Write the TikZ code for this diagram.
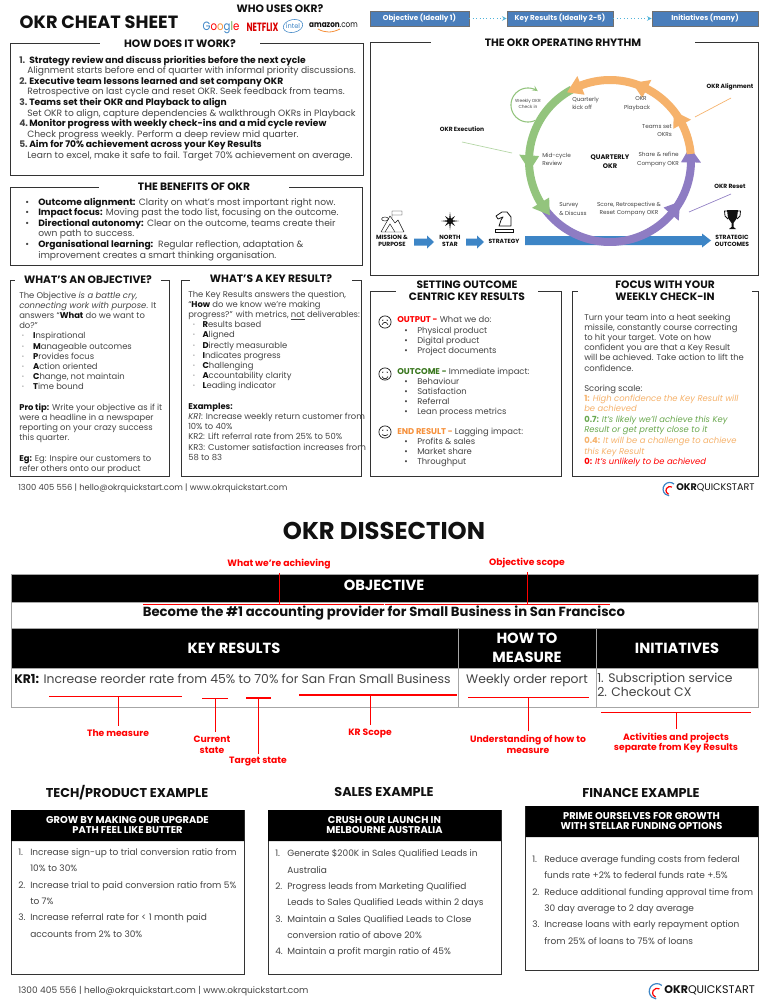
\documentclass[tikz,border=0pt]{standalone}
\usepackage{fontspec}
\usepackage{graphicx}
\setmainfont{Poppins}
\usetikzlibrary{calc}
\definecolor{ink}{HTML}{111111}
\definecolor{body}{HTML}{444444}
\definecolor{frame}{HTML}{333333}
\definecolor{boxblue}{HTML}{4A7EBB}
\definecolor{linkblue}{HTML}{4FB3D9}
\definecolor{arrowblue}{HTML}{3D85C6}
\definecolor{ringorange}{HTML}{F6B26B}
\definecolor{ringgreen}{HTML}{93C47D}
\definecolor{ringpurple}{HTML}{8E7CC3}
\definecolor{noteRed}{HTML}{FF0000}
\definecolor{okGreen}{HTML}{38761D}
\definecolor{midGreen}{HTML}{6AA84F}
\definecolor{endOrange}{HTML}{F6913C}
\definecolor{rule}{HTML}{A6A6A6}
\tikzset{
  panel/.style={draw=frame, line width=0.75pt, fill=white},
  panelTitle/.style={fill=white, text=ink, font=\fontsize{8}{9}\bfseries\selectfont, inner sep=0pt, align=center},
  bodyTxt/.style={text=body, font=\fontsize{6.3}{7.65}\selectfont, inner sep=0pt, align=left, anchor=north west},
  howTxt/.style={bodyTxt, font=\fontsize{6.85}{7.95}\selectfont},
  miniTxt/.style={text=body, font=\fontsize{4.3}{6.5}\selectfont, inner sep=0pt, align=left},
  miniBold/.style={text=ink, font=\fontsize{4.5}{5.4}\bfseries\selectfont, inner sep=0pt, align=center},
  topBox/.style={draw=frame!70, fill=boxblue, text=white, line width=0.4pt, font=\fontsize{5.4}{6}\bfseries\selectfont, minimum height=11.25pt, inner sep=0pt},
  flowLink/.style={draw=linkblue, dotted, line width=0.6pt, ->, >=stealth},
  blackCell/.style={fill=black, text=white, font=\fontsize{11}{14.2}\bfseries\selectfont, inner sep=0pt, align=center},
  cellTxt/.style={text=body, font=\fontsize{9.3}{10.6}\selectfont, inner sep=0pt, align=left, anchor=base west},
  redLbl/.style={text=noteRed, font=\fontsize{6.9}{8}\bfseries\selectfont, inner sep=0pt, outer sep=3pt, align=center},
  redRule/.style={draw=noteRed, line width=0.75pt},
  exTitle/.style={text=ink, font=\fontsize{9.6}{11}\bfseries\selectfont, inner sep=0pt},
  exHead/.style={fill=black, text=white, font=\fontsize{7.4}{8.2}\bfseries\selectfont, inner sep=0pt, align=center},
  exTxt/.style={text=body, font=\fontsize{6.75}{12.25}\selectfont, inner sep=0pt, align=left, anchor=north west},
  footTxt/.style={text=body, font=\fontsize{6.27}{7}\selectfont, inner sep=0pt, anchor=west},
  faceLine/.style={draw=ink, line width=0.5pt},
  pics/okrlogo/.style={code={
    \draw[draw=arrowblue, line width=0.9pt] (12,-4) arc (50:265:5pt);
    \draw[draw=noteRed, line width=0.9pt] (10,-1) arc (60:250:3pt);
    \node[inner sep=0pt, anchor=west, text=ink, font=\fontsize{#1}{9}\selectfont] (word) at (14,0) {\textbf{OKR}QUICKSTART};
  }},
}
\newcommand{\RingArc}[3]{%
  \draw[draw=#3, line width=6pt] plot[domain=#1:#2, samples=50, smooth] ({610+81*cos(\x)},{161-81*sin(\x)});
}
\newcommand{\RingHead}[2]{%
  \fill[#2] ({610+81*cos(#1)},{161-81*sin(#1)})
    -- ({610+91*cos(#1-11)},{161-91*sin(#1-11)})
    -- ({610+71*cos(#1-11)},{161-71*sin(#1-11)}) -- cycle;
}
\newcommand{\FaceAt}[3]{%
  \draw[faceLine] (#1,#2) circle (4.6pt);
  \fill[ink] (#1-2.2,#2-1.8) circle (0.5pt) (#1+2.2,#2-1.8) circle (0.5pt);
  \draw[faceLine] (#1-3,#2+2.6) .. controls (#1-1,#2+2.6+#3) and (#1+1,#2+2.6+#3) .. (#1+3,#2+2.6);
}
\newcommand{\HowNum}[1]{\hspace*{1.5pt}\makebox[7.5pt][l]{\textbf{#1}}}
\newcommand{\HowSub}{\hspace*{7.5pt}}
\newcommand{\BenDot}{\makebox[9.75pt][l]{•}}
\newcommand{\BenSub}{\hspace*{9.75pt}}
\newcommand{\ObjDot}{\hspace*{2.2pt}\makebox[8.2pt][l]{·}}
\newcommand{\KrDot}{\hspace*{3.7pt}\makebox[7pt][l]{·}}
\newcommand{\ExNum}[1]{\makebox[9pt][l]{#1}}

\begin{document}
\begin{tikzpicture}[x=0.75pt, y=-0.75pt]
  \useasboundingbox (0,0) rectangle (768,1006);
  \fill[white] (0,0) rectangle (768,1006);

  % header
  \node[inner sep=0pt, text=ink, font=\fontsize{13.3}{15}\bfseries\selectfont] (sheetTitle) at (99,22) {OKR CHEAT SHEET};
  \node[panelTitle] (whoUses) at (280,9) {WHO USES OKR?};
  \node[inner sep=0pt, font=\fontsize{9}{10}\selectfont] (logoGoogle) at (221,28) {\scalebox{0.85}[1]{\textcolor{arrowblue}{G}\textcolor{noteRed}{o}\textcolor{endOrange}{o}\textcolor{arrowblue}{g}\textcolor{midGreen}{l}\textcolor{noteRed}{e}}};
  \node[inner sep=0pt, text=noteRed!85!black, font=\fontsize{9}{10}\bfseries\selectfont] (logoNetflix) at (262.5,27) {\scalebox{0.68}[1]{NETFLIX}};
  \draw[draw=arrowblue, line width=0.4pt, rotate around={12:(293,26)}] (293,26) ellipse (7.4pt and 4.8pt);
  \node[inner sep=0pt, text=arrowblue, font=\fontsize{5}{6}\selectfont] (logoIntel) at (293,26) {intel};
  \node[inner sep=0pt, text=ink, font=\fontsize{6.4}{8}\selectfont] (logoAmazon) at (333.5,25) {\scalebox{0.85}[1]{\textbf{amazon}.com}};
  \draw[draw=endOrange, line width=0.6pt] (318,29) .. controls (325,33) and (332,33) .. (340,29);

  % how does it work
  \draw[panel] (10,44) rectangle (363,175);
  \node[panelTitle, minimum width=120pt, minimum height=9pt] (howTitle) at (180,44) {HOW DOES IT WORK?};
  \node[howTxt] (howList) at (17,55.5) {%
    \HowNum{1.}\textbf{\textcolor{ink}{Strategy review and discuss priorities before the next cycle}}\\
    \HowSub Alignment starts before end of quarter with informal priority discussions.\\
    \HowNum{2.}\textbf{\textcolor{ink}{Executive team lessons learned and set company OKR}}\\
    \HowSub Retrospective on last cycle and reset OKR. Seek feedback from teams.\\
    \HowNum{3.}\textbf{\textcolor{ink}{Teams set their OKR and Playback to align}}\\
    \HowSub Set OKR to align, capture dependencies \& walkthrough OKRs in Playback\\
    \HowNum{4.}\textbf{\textcolor{ink}{Monitor progress with weekly check-ins and a mid cycle review}}\\
    \HowSub Check progress weekly. Perform a deep review mid quarter.\\
    \HowNum{5.}\textbf{\textcolor{ink}{Aim for 70\% achievement across your Key Results}}\\
    \HowSub Learn to excel, make it safe to fail. Target 70\% achievement on average.};

  % benefits
  \draw[panel] (10,187) rectangle (362,265);
  \node[panelTitle, minimum width=142pt, minimum height=9pt] (benTitle) at (194,187) {THE BENEFITS OF OKR};
  \node[howTxt] (benList) at (25,197.5) {%
    \BenDot\textbf{\textcolor{ink}{Outcome alignment:}} Clarity on what’s most important right now.\\
    \BenDot\textbf{\textcolor{ink}{Impact focus:}} Moving past the todo list, focusing on the outcome.\\
    \BenDot\textbf{\textcolor{ink}{Directional autonomy:}} Clear on the outcome, teams create their\\
    \BenSub own path to success.\\
    \BenDot\textbf{\textcolor{ink}{Organisational learning:}}\ \ Regular reflection, adaptation \&\\
    \BenSub improvement creates a smart thinking organisation.};

  % objective panel
  \draw[panel] (10,280) rectangle (169,476);
  \node[panelTitle, minimum width=110pt, minimum height=9pt] (objTitle) at (88,280) {WHAT’S AN OBJECTIVE?};
  \node[bodyTxt] (objTxt) at (19,291.5) {%
    The Objective \textit{is a battle cry,}\\
    \textit{connecting work with purpose}. It\\
    answers “\textbf{\textcolor{ink}{What}} do we want to\\
    do?”\\
    \ObjDot\textbf{\textcolor{ink}{I}}nspirational\\
    \ObjDot\textbf{\textcolor{ink}{M}}anageable outcomes\\
    \ObjDot\textbf{\textcolor{ink}{P}}rovides focus\\
    \ObjDot\textbf{\textcolor{ink}{A}}ction oriented\\
    \ObjDot\textbf{\textcolor{ink}{C}}hange, not maintain\\
    \ObjDot\textbf{\textcolor{ink}{T}}ime bound\\[7.6pt]
    \textbf{\textcolor{ink}{Pro tip:}} Write your objective as if it\\
    were a headline in a newspaper\\
    reporting on your crazy success\\
    this quarter.\\[7.6pt]
    \textbf{\textcolor{ink}{Eg:}} Eg: Inspire our customers to\\
    refer others onto our product};

  % key result panel
  \draw[panel] (181.5,280) rectangle (361.5,476);
  \node[panelTitle, minimum width=122pt, minimum height=9pt] (krTitle) at (271,279) {WHAT’S A KEY RESULT?};
  \node[bodyTxt] (krTxt) at (188,290.5) {%
    The Key Results answers the question,\\
    “\textbf{\textcolor{ink}{How}} do we know we’re making\\
    progress?” with metrics, \underline{not} deliverables:\\
    \KrDot\textbf{\textcolor{ink}{R}}esults based\\
    \KrDot\textbf{\textcolor{ink}{A}}ligned\\
    \KrDot\textbf{\textcolor{ink}{D}}irectly measurable\\
    \KrDot\textbf{\textcolor{ink}{I}}ndicates progress\\
    \KrDot\textbf{\textcolor{ink}{C}}hallenging\\
    \KrDot\textbf{\textcolor{ink}{A}}ccountability clarity\\
    \KrDot\textbf{\textcolor{ink}{L}}eading indicator\\[7.6pt]
    \textbf{\textcolor{ink}{Examples:}}\\
    \textit{KR1}: Increase weekly return customer from\\
    10\% to 40\%\\
    KR2: Lift referral rate from 25\% to 50\%\\
    KR3: Customer satisfaction increases from\\
    58 to 83};

  \node[footTxt] (footA) at (18,488) {1300 405 556 | hello@okrquickstart.com | www.okrquickstart.com};
  \pic at (662,488) {okrlogo=7.2};

  % top flow
  \node[topBox, minimum width=74pt] (objBox) at (419.5,18.5) {Objective (Ideally 1)};
  \node[topBox, minimum width=79.5pt] (krBox) at (560,18.5) {Key Results (Ideally 2-5)};
  \node[topBox, minimum width=79.5pt] (initBox) at (705,18.5) {Initiatives (many)};
  \draw[flowLink] (objBox) -- (krBox);
  \draw[flowLink] (krBox) -- (initBox);

  % operating rhythm
  \draw[panel] (370,43) rectangle (758,275);
  \node[panelTitle, minimum width=198pt, minimum height=9pt] (rhythmTitle) at (563,43) {THE OKR OPERATING RHYTHM};

  \fill[arrowblue] (414,238.5) -- (427,238.5) -- (427,235.5) -- (434,242) -- (427,248.5) -- (427,245.5) -- (414,245.5) -- cycle;
  \fill[arrowblue] (466,238.5) -- (477,238.5) -- (477,235.5) -- (484,242) -- (477,248.5) -- (477,245.5) -- (466,245.5) -- cycle;
  \fill[arrowblue] (525,236) -- (702,236) -- (702,233.5) -- (711,240.5) -- (702,247.5) -- (702,245) -- (525,245) -- cycle;

  \RingArc{-145}{0}{ringpurple}
  \RingHead{-30}{ringpurple}
  \RingHead{10}{ringpurple}
  \RingArc{5}{115}{ringorange}
  \RingHead{38}{ringorange}
  \RingHead{74}{ringorange}
  \RingArc{118}{215}{ringgreen}
  \RingHead{187}{ringgreen}
  \RingHead{222}{ringgreen}
  \RingHead{122}{ringorange}

  \draw[draw=ringgreen, line width=0.8pt, -stealth] plot[domain=-65:-305, samples=50, smooth] ({528+17*cos(\x)},{105-17*sin(\x)});
  \node[miniTxt, align=center, font=\fontsize{3.3}{4.5}\selectfont] (weekly) at (528,104) {Weekly OKR\\Check in};

  \draw[draw=ringorange, line width=0.5pt] (695,117) -- (731,98);
  \draw[draw=ringgreen!70, line width=0.5pt] (462,142) -- (512,153);
  \draw[draw=ringpurple, line width=0.5pt] (689,212) -- (731,194);
  \node[miniBold] (lblAlign) at (730,87) {OKR Alignment};
  \node[miniBold] (lblExec) at (462,129) {OKR Execution};
  \node[miniBold] (lblReset) at (730,186) {OKR Reset};

  \node[miniTxt, anchor=west] (kickOff) at (572,103.5) {Quarterly\\kick off};
  \node[miniTxt, align=center] (playback) at (637,103.5) {\hspace*{6pt}OKR\\Playback};
  \node[miniTxt, align=right] (teamsSet) at (657,130.5) {Teams set\\OKRs};
  \node[miniTxt, anchor=west] (midCycle) at (542,159.5) {Mid-cycle\\Review};
  \node[miniBold, font=\fontsize{5}{6.5}\bfseries\selectfont] (quarterly) at (610,161.5) {QUARTERLY\\OKR};
  \node[miniTxt, align=right, anchor=east] (refine) at (679,159.5) {Share \& refine\\Company OKR};
  \node[miniTxt, anchor=west] (survey) at (559,209) {Survey\\\& Discuss};
  \node[miniTxt, align=center] (retro) at (629,209) {Score, Retrospective \&\\Reset Company OKR};

  \node[miniBold] (mission) at (392,241) {MISSION \&\\PURPOSE};
  \node[miniBold] (north) at (450,240.5) {NORTH\\STAR};
  \node[miniBold] (strategy) at (504,241) {STRATEGY};
  \node[miniBold] (outcomes) at (732,240.5) {STRATEGIC\\OUTCOMES};

  % icons
  \draw[draw=ink, line width=0.35pt, line join=round] (381,232) -- (390,216) -- (395,223) -- (398,220) -- (404,232) -- cycle;
  \draw[draw=ink, line width=0.35pt] (385,232) -- (390,224) -- (395,232) (392,218) -- (392,211) -- (402,211) -- (402,215) -- (392,215);
  \draw[draw=ink, line width=0.35pt] (385,219) ellipse (2.6pt and 1.5pt);
  \fill[ink] (450,212) -- (451,220) -- (459,221) -- (451,222) -- (450,230) -- (449,222) -- (441,221) -- (449,220) -- cycle;
  \fill[ink] (445,216) -- (451,220) -- (455,226) -- (449,222) -- cycle (455,216) -- (451,222) -- (445,226) -- (449,220) -- cycle;
  \draw[draw=ink, line width=0.6pt, line join=round] (499,226) -- (501,220) -- (503,217) -- (498,219) -- (496,216) -- (502,212) -- (507,212) -- (511,217) -- (511,226) -- cycle;
  \draw[draw=ink, line width=0.6pt] (495,229) rectangle (513,232);
  \fill[ink] (727,210) -- (738,210) -- (737,218) -- (733.5,223) -- (733.5,227) -- (736,229) -- (729,229) -- (731.5,227) -- (731.5,223) -- (728,218) -- cycle;
  \draw[draw=ink, line width=0.6pt] (727,211) -- (724.5,211) -- (725,216) -- (728,219) (738,211) -- (740.5,211) -- (740,216) -- (737,219);

  % setting outcome
  \draw[panel] (370,291) rectangle (561,476);
  \node[panelTitle, minimum width=107pt, minimum height=20pt] (setTitle) at (467,291) {SETTING OUTCOME\\CENTRIC KEY RESULTS};
  \FaceAt{385}{322}{-3}
  \FaceAt{385}{374}{3}
  \FaceAt{385}{432}{1.5}
  \node[bodyTxt] (setOutput) at (397,316.5) {\textbf{\textcolor{noteRed}{OUTPUT -}} What we do:};
  \node[bodyTxt] (setOutputList) at (404,326.5) {\BenDot Physical product\\\BenDot Digital product\\\BenDot Project documents};
  \node[bodyTxt] (setOutcome) at (397,367.5) {\textbf{\textcolor{okGreen}{OUTCOME -}} Immediate impact:};
  \node[bodyTxt] (setOutcomeList) at (404,377.5) {\BenDot Behaviour\\\BenDot Satisfaction\\\BenDot Referral\\\BenDot Lean process metrics};
  \node[bodyTxt] (setEnd) at (397,427.5) {\textbf{\textcolor{endOrange}{END RESULT -}} Lagging impact:};
  \node[bodyTxt] (setEndList) at (404,437.5) {\BenDot Profits \& sales\\\BenDot Market share\\\BenDot Throughput};

  % weekly check-in
  \draw[panel] (572,291) rectangle (758,476);
  \node[panelTitle, minimum width=131pt, minimum height=20pt] (focusTitle) at (665,291) {FOCUS WITH YOUR\\WEEKLY CHECK-IN};
  \node[bodyTxt] (focusTxt) at (584,313.5) {%
    Turn your team into a heat seeking\\
    missile, constantly course correcting\\
    to hit your target. Vote on how\\
    confident you are that a Key Result\\
    will be achieved. Take action to lift the\\
    confidence.\\[7.6pt]
    Scoring scale:\\
    \textcolor{ringorange}{\textbf{1:} \textit{High confidence the Key Result will}}\\
    \textcolor{ringorange}{\textit{be achieved}}\\
    \textcolor{midGreen}{\textbf{0.7:} \textit{It’s likely we’ll achieve this Key}}\\
    \textcolor{midGreen}{\textit{Result or get pretty close to it}}\\[1pt]
    \textcolor{ringorange}{\textbf{0.4:} \textit{It will be a challenge to achieve}}\\
    \textcolor{ringorange}{\textit{this Key Result}}\\
    \textcolor{noteRed}{\textbf{0:} \textit{It’s unlikely to be achieved}}};

  % dissection
  \node[inner sep=0pt, text=ink, font=\fontsize{18.2}{20}\bfseries\selectfont] (dissTitle) at (384,531) {OKR DISSECTION};
  \fill[white] (11,574) rectangle (758,707);
  \fill[black] (11,574) rectangle (758,602);
  \fill[black] (11,628) rectangle (458,668) (458,628) rectangle (596,668) (596,628) rectangle (758,668);
  \draw[draw=rule, line width=0.6pt] (11,574) rectangle (758,707) (11,602) -- (758,602) (11,628) -- (758,628) (11,668) -- (758,668) (458,628) -- (458,707) (596,628) -- (596,707);
  \node[blackCell] (cellObjective) at (384,585) {OBJECTIVE};
  \node[inner sep=0pt, text=ink, font=\fontsize{9.9}{12}\bfseries\selectfont] (cellBecome) at (384,613.5) {Become the \#1 accounting provider for Small Business in San Francisco};
  \node[blackCell] (cellKR) at (234,648) {KEY RESULTS};
  \node[blackCell] (cellHow) at (527,648) {HOW TO\\MEASURE};
  \node[blackCell] (cellInit) at (677,648) {INITIATIVES};
  \node[cellTxt] (cellKROne) at (14,683) {\textbf{\textcolor{ink}{KR1:}} Increase reorder rate from 45\% to 70\% for San Fran Small Business};
  \node[cellTxt, anchor=base] (cellWeekly) at (527,683) {Weekly order report};
  \node[cellTxt, anchor=north west] (cellSteps) at (597,673) {1. Subscription service\\2. Checkout CX};

  % red callouts
  \node[redLbl] (noteAchieve) at (279,564) {What we’re achieving};
  \node[redLbl] (noteScope) at (527,563) {Objective scope};
  \coordinate (achieveEnd) at (279,604);
  \coordinate (scopeEnd) at (527,604);
  \draw[redRule] (143,604) -- (384,604);
  \draw[redRule] (385,604) -- (610,604);
  \draw[redRule] (noteAchieve) -- (achieveEnd);
  \draw[redRule] (noteScope) -- (scopeEnd);

  \node[redLbl] (noteMeasure) at (118,733) {The measure};
  \node[redLbl] (noteCurrent) at (212,744.5) {Current\\state};
  \node[redLbl] (noteTarget) at (258,762) {Target state};
  \node[redLbl] (noteKR) at (370,733) {KR Scope};
  \node[redLbl] (noteHow) at (528,744.5) {Understanding of how to\\measure};
  \node[redLbl] (noteInit) at (676,743) {Activities and projects\\separate from Key Results};
  \coordinate (measureEnd) at (118,696);
  \coordinate (currentEnd) at (215,698);
  \coordinate (targetEnd) at (258,698);
  \coordinate (krEnd) at (370,695);
  \coordinate (howEnd) at (528,697);
  \coordinate (initEnd) at (676,712);
  \draw[redRule] (49,696) -- (182,696);
  \draw[redRule] (202,698) -- (228,698);
  \draw[redRule, line width=1.2pt] (246,698) -- (271,698);
  \draw[redRule, line width=1.4pt] (299,695) -- (457,695);
  \draw[redRule] (468,697) -- (589,697);
  \draw[redRule] (601,712) -- (751,712);
  \draw[redRule] (noteMeasure.north) -- (measureEnd);
  \draw[redRule] (noteCurrent.north -| currentEnd) -- (currentEnd);
  \draw[redRule] (noteTarget) -- (targetEnd);
  \draw[redRule] (noteKR) -- (krEnd);
  \draw[redRule] (noteHow) -- (howEnd);
  \draw[redRule] (noteInit) -- (initEnd);

  % examples
  \node[exTitle] (exTech) at (127,793) {TECH/PRODUCT EXAMPLE};
  \node[exTitle] (exSales) at (384,792) {SALES EXAMPLE};
  \node[exTitle] (exFin) at (641,793) {FINANCE EXAMPLE};

  \draw[panel] (11,810) rectangle (244,974);
  \draw[panel] (268,810) rectangle (501,974);
  \draw[panel] (525.5,806) rectangle (758,970);
  \fill[black] (11,810) rectangle (244,841) (268,810) rectangle (501,841) (525.5,806) rectangle (758,837);
  \node[exHead] (techHead) at (127.5,825) {GROW BY MAKING OUR UPGRADE\\PATH FEEL LIKE BUTTER};
  \node[exHead] (salesHead) at (384.5,825) {CRUSH OUR LAUNCH IN\\MELBOURNE AUSTRALIA};
  \node[exHead] (finHead) at (641.5,821) {PRIME OURSELVES FOR GROWTH\\WITH STELLAR FUNDING OPTIONS};

  \node[exTxt] (techList) at (18,848.5) {%
    \ExNum{1.}Increase sign-up to trial conversion ratio from\\
    \ExNum{}10\% to 30\%\\
    \ExNum{2.}Increase trial to paid conversion ratio from 5\%\\
    \ExNum{}to 7\%\\
    \ExNum{3.}Increase referral rate for < 1 month paid\\
    \ExNum{}accounts from 2\% to 30\%};
  \node[exTxt] (salesList) at (275,849.5) {%
    \ExNum{1.}Generate \$200K in Sales Qualified Leads in\\
    \ExNum{}Australia\\
    \ExNum{2.}Progress leads from Marketing Qualified\\
    \ExNum{}Leads to Sales Qualified Leads within 2 days\\
    \ExNum{3.}Maintain a Sales Qualified Leads to Close\\
    \ExNum{}conversion ratio of above 20\%\\
    \ExNum{4.}Maintain a profit margin ratio of 45\%};
  \node[exTxt] (finList) at (532,855.5) {%
    \ExNum{1.}Reduce average funding costs from federal\\
    \ExNum{}funds rate +2\% to federal funds rate +.5\%\\
    \ExNum{2.}Reduce additional funding approval time from\\
    \ExNum{}30 day average to 2 day average\\
    \ExNum{3.}Increase loans with early repayment option\\
    \ExNum{}from 25\% of loans to 75\% of loans};

  \node[footTxt, font=\fontsize{6.76}{8}\selectfont] (footB) at (18,991) {1300 405 556 | hello@okrquickstart.com | www.okrquickstart.com};
  \pic[scale=1.15] at (648,990) {okrlogo=8.3};
\end{tikzpicture}
\end{document}
